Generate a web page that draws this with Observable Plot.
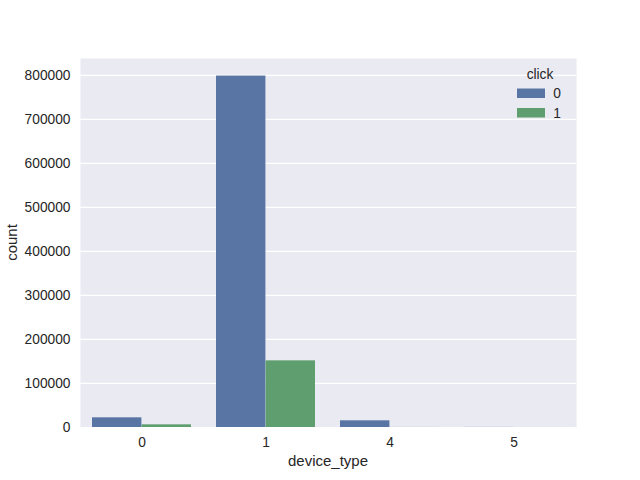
<!DOCTYPE html>
<html>
<head>
<meta charset="utf-8">
<script src="https://cdn.jsdelivr.net/npm/d3@7"></script>
<script src="https://cdn.jsdelivr.net/npm/@observablehq/plot@0.6"></script>
<style>
  html, body { margin: 0; padding: 0; background: #fff; }
  #chart { width: 640px; height: 480px; }
  svg text { font-family: "Liberation Sans", Arial, sans-serif; }
</style>
</head>
<body>
<div id="chart"></div>
<script>
const deviceTypes = ["0", "1", "4", "5"];
const clicks = ["0", "1"];
const countsClick0 = [22000, 798700, 15200, 200];
const countsClick1 = [6100, 151500, 150, 30];
const yTicks = [0, 100000, 200000, 300000, 400000, 500000, 600000, 700000, 800000];
const colors = ["#5975a4", "#5f9e6e"];

const data = [];
deviceTypes.forEach((d, i) => {
  data.push({device_type: d, click: "0", count: countsClick0[i]});
  data.push({device_type: d, click: "1", count: countsClick1[i]});
});

const W = 640, H = 480;
const mL = 80, mR = 64, mT = 58, mB = 53;
const pIn = 0.2, pOut = 0.1;
const step = (W - mL - mR) / (deviceTypes.length - pIn + 2 * pOut);
const half = step * (1 - pIn) / 2;
const yMax = d3.max(data, d => d.count) * 1.05;

const plot = Plot.plot({
  width: W,
  height: H,
  marginLeft: mL,
  marginRight: mR,
  marginTop: mT,
  marginBottom: mB,
  style: {fontFamily: "Liberation Sans, Arial, sans-serif", fontSize: "13.75px", color: "#262626", background: "white"},
  x: {domain: deviceTypes, paddingInner: pIn, paddingOuter: pOut, label: null, tickSize: 0, tickPadding: 10},
  y: {domain: [0, yMax], ticks: yTicks, tickFormat: d3.format("d"), label: null, tickSize: 0, tickPadding: 10},
  marks: [
    Plot.frame({fill: "#EAEAF2", stroke: null}),
    Plot.ruleY(yTicks, {stroke: "white", strokeWidth: 1.25}),
    Plot.barY(data.filter(d => d.click === "0"), {x: "device_type", y: "count", fill: colors[0], insetRight: half, insetLeft: 0}),
    Plot.barY(data.filter(d => d.click === "1"), {x: "device_type", y: "count", fill: colors[1], insetLeft: half, insetRight: 0})
  ]
});

document.getElementById("chart").appendChild(plot);

const svg = d3.select(plot);
// axis titles
svg.append("text")
  .attr("x", mL + (W - mL - mR) / 2).attr("y", 466)
  .attr("text-anchor", "middle").attr("fill", "#262626")
  .style("font-size", "15px").text("device_type");
svg.append("text")
  .attr("transform", `translate(17,${mT + (H - mT - mB) / 2}) rotate(-90)`)
  .attr("text-anchor", "middle").attr("fill", "#262626")
  .style("font-size", "15px").text("count");

// legend
const lg = svg.append("g");
lg.append("text").attr("x", 540).attr("y", 79).attr("text-anchor", "middle")
  .attr("fill", "#262626").style("font-size", "13.75px").text("click");
clicks.forEach((c, i) => {
  const y = 93 + i * 19.5;
  lg.append("rect").attr("x", 517).attr("y", y - 4.5).attr("width", 28).attr("height", 9.5).attr("fill", colors[i]);
  lg.append("text").attr("x", 557).attr("y", y + 5).attr("fill", "#262626")
    .style("font-size", "13.75px").text(c);
});
</script>
</body>
</html>
